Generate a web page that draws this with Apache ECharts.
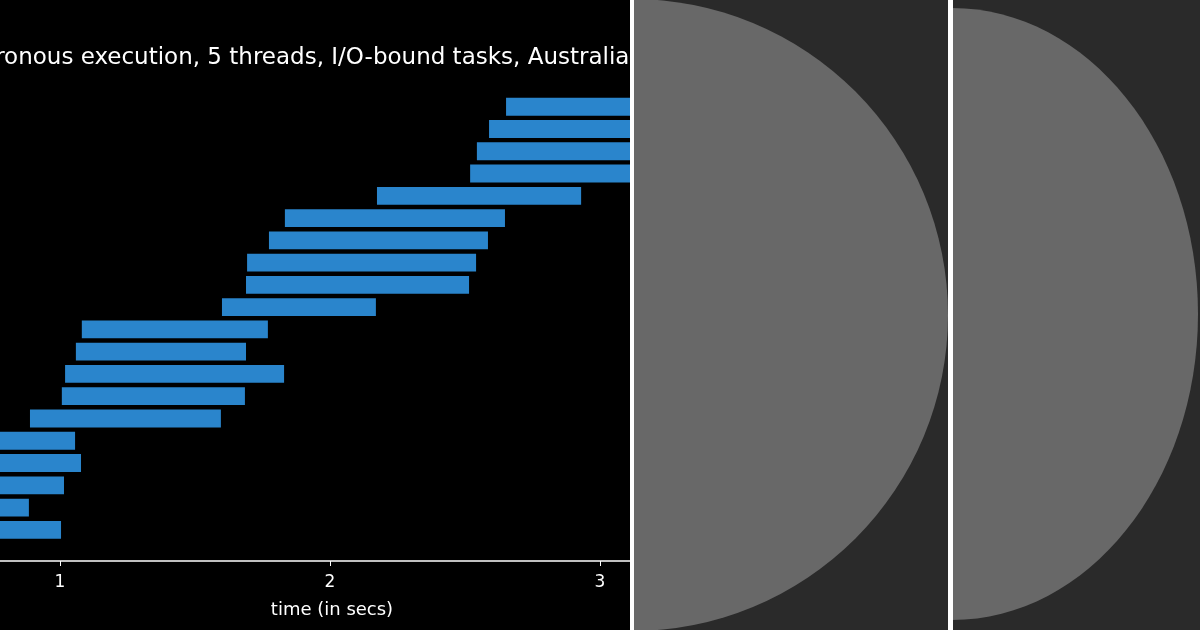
<!DOCTYPE html>
<html>
<head>
<meta charset="utf-8">
<script src="https://cdn.jsdelivr.net/npm/echarts@6/dist/echarts.min.js"></script>
<style>html,body{margin:0;background:#2a2a2a}#main{width:1200px;height:630px}</style>
</head>
<body>
<div id="main"></div>
<script>
// task start / end times (secs), bottom row first
var taskStart = [0.60, 0.55, 0.62, 0.65, 0.63, 0.889, 1.007, 1.019, 1.059, 1.081,
                 1.600, 1.689, 1.693, 1.774, 1.833, 2.174, 2.519, 2.544, 2.589, 2.652];
var taskEnd   = [1.004, 0.885, 1.015, 1.078, 1.056, 1.596, 1.685, 1.830, 1.689, 1.770,
                 2.170, 2.515, 2.541, 2.585, 2.648, 2.930, 3.30, 3.32, 3.35, 3.38];
var xTicks = [1, 2, 3];
var titleText = 'Asynchronous execution, 5 threads, I/O-bound tasks, Australia';

var rows = []
for(var i = 0; i<taskStart.length; i++){
  rows.push([i, taskStart[i], taskEnd[i]])
}

var chart = echarts.init(document.getElementById('main'));
var font = 'DejaVu Sans';

var option = {
  backgroundColor: '#2a2a2a',
  animation: false,
  grid: {left: 0, width: 630, top: 80, bottom: 69},
  xAxis: {
    type: 'value', min: 0.778, max: 3.111,
    splitLine: {show: false},
    axisLine: {onZero: false, lineStyle: {color: '#ffffff', width: 1.5}},
    axisTick: {customValues: xTicks, length: 5, lineStyle: {color: '#ffffff'}},
    axisLabel: {customValues: xTicks, color: '#ffffff', fontSize: 17, fontFamily: font, margin: 13},
    name: 'time (in secs)', nameLocation: 'middle', nameGap: 40,
    nameTextStyle: {color: '#ffffff', fontSize: 18, fontFamily: font, padding: [0, 0, 0, 34]}
  },
  yAxis: {type: 'value', min: -1.4, max: 20.2, show: false},
  graphic: [
    {type: 'rect', z: -10, shape: {x: 0, y: 0, width: 630, height: 630}, style: {fill: '#000000'}},
    {type: 'text', z: 5, x: -88, y: 47, style: {text: titleText, fill: '#ffffff', fontSize: 23, fontFamily: font}},
    {type: 'rect', z: 10, shape: {x: 630, y: 0, width: 570, height: 630}, style: {fill: '#2a2a2a'}},
    {type: 'ellipse', z: 11, shape: {cx: 952, cy: 314, rx: 246, ry: 306}, style: {fill: '#686868'}},
    {type: 'rect', z: 12, shape: {x: 630, y: 0, width: 320, height: 630}, style: {fill: '#2a2a2a'}},
    {type: 'sector', z: 13, shape: {cx: 632, cy: 315, r0: 0, r: 316, startAngle: -Math.PI/2, endAngle: Math.PI/2}, style: {fill: '#686868'}},
    {type: 'rect', z: 14, shape: {x: 630, y: 0, width: 4, height: 630}, style: {fill: '#ffffff'}},
    {type: 'rect', z: 14, shape: {x: 948, y: 0, width: 5, height: 630}, style: {fill: '#ffffff'}}
  ],
  series: [{
    type: 'custom',
    clip: true,
    data: rows,
    renderItem: function(params, api){
      var p0 = api.coord([api.value(1), api.value(0)])
      var p1 = api.coord([api.value(2), api.value(0)])
      var h = api.size([0, 0.8])[1]
      return {
        type: 'rect',
        shape: {x: p0[0], y: p0[1] - h/2, width: p1[0] - p0[0], height: h},
        style: {fill: '#2a85cc'}
      }
    }
  }]
}
chart.setOption(option);
</script>
</body>
</html>
